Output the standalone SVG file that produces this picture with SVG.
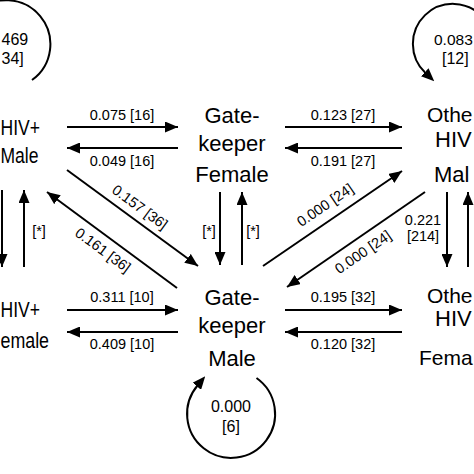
<svg xmlns="http://www.w3.org/2000/svg" width="474" height="474" viewBox="0 0 474 474">
<defs>
<marker id="ah" markerUnits="userSpaceOnUse" markerWidth="13" markerHeight="11" refX="13" refY="5.5" orient="auto">
<path d="M0,0 L13,5.5 L0,11 z" fill="#000"/>
</marker>
<marker id="ahb" markerUnits="userSpaceOnUse" markerWidth="13" markerHeight="11" refX="1" refY="5.5" orient="auto">
<path d="M0,0 L13,5.5 L0,11 z" fill="#000"/>
</marker>
<style>
.n{font-family:"Liberation Sans",Arial,Helvetica,sans-serif;font-size:22px;fill:#000;text-anchor:middle}
.r{font-size:21px}
.l{font-family:"Liberation Sans",Arial,Helvetica,sans-serif;font-size:14.5px;fill:#000;text-anchor:middle}
.lp{font-family:"Liberation Sans",Arial,Helvetica,sans-serif;font-size:16px;fill:#000;text-anchor:middle}
.s{text-anchor:start}
.c{stroke:#000;stroke-width:2;fill:none;marker-end:url(#ah)}
.cl{stroke:#000;stroke-width:2;fill:none;marker-end:url(#ahb)}
</style>
</defs>
<rect width="474" height="474" fill="#fff"/>
<g id="node-hiv-male">
<text class="n s" x="0.5" y="135" textLength="39.5" lengthAdjust="spacingAndGlyphs">HIV+</text>
<text class="n s" x="0.5" y="163" textLength="38" lengthAdjust="spacingAndGlyphs">Male</text>
</g>
<g id="node-hiv-female">
<text class="n s" x="0.5" y="317" textLength="39.5" lengthAdjust="spacingAndGlyphs">HIV+</text>
<text class="n s" x="0.5" y="348" textLength="48.5" lengthAdjust="spacingAndGlyphs">emale</text>
</g>
<g id="node-gk-female">
<text class="n" x="232" y="123">Gate-</text>
<text class="n" x="232" y="151">keeper</text>
<text class="n" x="232" y="182">Female</text>
</g>
<g id="node-gk-male">
<text class="n" x="232" y="305">Gate-</text>
<text class="n" x="232" y="333">keeper</text>
<text class="n" x="232" y="366">Male</text>
</g>
<g id="node-other-male">
<text class="n s r" x="427" y="122">Othe</text>
<text class="n s" x="435" y="147">HIV</text>
<text class="n s" x="434" y="182">Mal</text>
</g>
<g id="node-other-female">
<text class="n s r" x="427" y="303">Othe</text>
<text class="n s" x="435" y="326">HIV</text>
<text class="n s r" x="419" y="365">Fema</text>
</g>
<g id="connectors">
<path class="c" d="M67,127 H178"/>
<path class="c" d="M178,148 H67"/>
<path class="c" d="M285,127 H402"/>
<path class="c" d="M402,148 H285"/>
<path class="c" d="M67,310 H178"/>
<path class="c" d="M178,332 H67"/>
<path class="c" d="M285,310 H402"/>
<path class="c" d="M402,332 H285"/>
<path class="c" d="M2,190 V267"/>
<path class="c" d="M24,267 V190"/>
<path class="c" d="M220,192 V265"/>
<path class="c" d="M242,265 V192"/>
<path class="c" d="M447,192 V267"/>
<path class="c" d="M468,267 V192"/>
<path class="c" d="M67,170 L198,266"/>
<path class="c" d="M177,288 L47,192"/>
<path class="c" d="M263,266 L402,171"/>
<path class="c" d="M425,192 L287,287"/>
<path class="cl" d="M32,80 A44,44 0 1 0 -23,77"/>
<path class="cl" d="M478,75 A40,40 0 1 0 425.5,73"/>
<path class="cl" d="M256.5,378 A44,44 0 1 1 197.5,385.5"/>
</g>
<g id="labels">
<text class="l" x="122" y="120">0.075 [16]</text>
<text class="l" x="122" y="166">0.049 [16]</text>
<text class="l" x="343" y="120">0.123 [27]</text>
<text class="l" x="343" y="166">0.191 [27]</text>
<text class="l" x="122" y="302">0.311 [10]</text>
<text class="l" x="122" y="349">0.409 [10]</text>
<text class="l" x="343" y="302">0.195 [32]</text>
<text class="l" x="343" y="349">0.120 [32]</text>
<text class="l" x="39" y="236">[*]</text>
<text class="l" x="209" y="236">[*]</text>
<text class="l" x="253" y="236">[*]</text>
<text class="l" x="423" y="225">0.221</text>
<text class="l" x="423" y="241">[214]</text>
<text class="l" transform="translate(140,207) rotate(36.2)" y="5">0.157 [36]</text>
<text class="l" transform="translate(103,250) rotate(36.4)" y="5">0.161 [36]</text>
<text class="l" transform="translate(325,205) rotate(-34.3)" y="5">0.000 [24]</text>
<text class="l" transform="translate(363,252) rotate(-34.7)" y="5">0.000 [24]</text>
<text class="lp s" x="1.5" y="45">469</text>
<text class="lp s" x="1.5" y="64">34]</text>
<text class="lp s" x="434" y="45" style="font-size:15.5px">0.083</text>
<text class="lp s" x="442" y="64">[12]</text>
<text class="lp" x="231" y="412">0.000</text>
<text class="lp" x="231" y="432">[6]</text>
</g>
</svg>
